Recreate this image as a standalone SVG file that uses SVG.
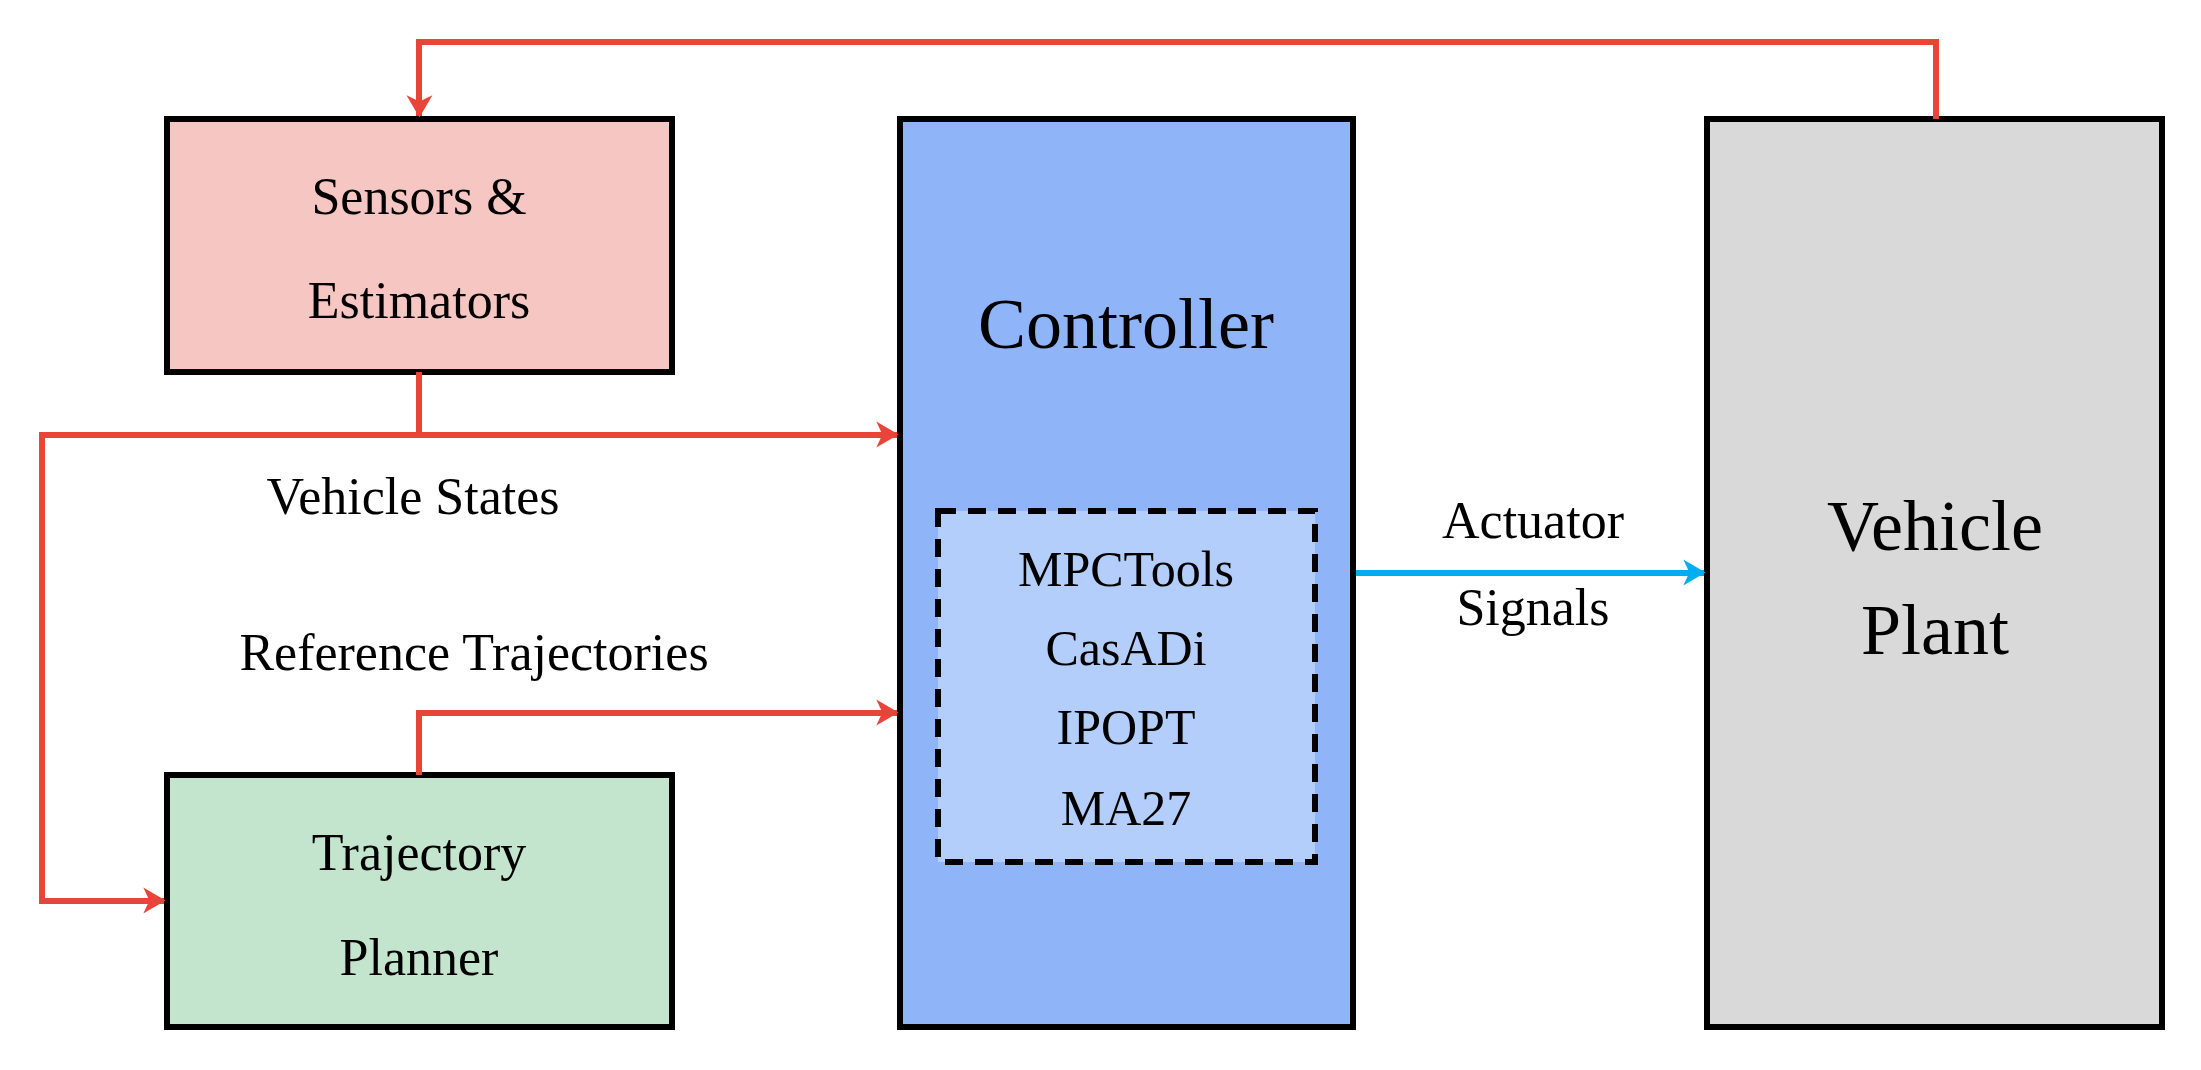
<svg xmlns="http://www.w3.org/2000/svg" width="2201" height="1070" viewBox="0 0 2201 1070">
<style>
.b{stroke:#000;stroke-width:6}
.t{font-family:"Liberation Serif",serif;fill:#000;text-anchor:middle}
.r{fill:none;stroke:#e8453a;stroke-width:6}
</style>
<defs>
<marker id="ar" viewBox="0 0 20 20" refX="19" refY="10" markerWidth="9" markerHeight="9" markerUnits="userSpaceOnUse" orient="auto" style="overflow:visible">
<path d="M-30,-22 L25,10 L-30,42 L-15,10 Z" fill="#e8453a" transform="scale(0.9)"/>
</marker>
<marker id="ab" viewBox="0 0 20 20" refX="19" refY="10" markerWidth="9" markerHeight="9" markerUnits="userSpaceOnUse" orient="auto" style="overflow:visible">
<path d="M-30,-22 L25,10 L-30,42 L-15,10 Z" fill="#00aeef" transform="scale(0.9)"/>
</marker>
</defs>
<rect width="2201" height="1070" fill="#fff"/>
<g id="sensors"><rect class="b" x="167" y="119" width="505" height="253" fill="#f6c6c2"/>
<text class="t" x="419" y="214" font-size="52">Sensors &amp;</text>
<text class="t" x="419" y="318" font-size="52">Estimators</text></g>
<g id="planner"><rect class="b" x="167" y="775" width="505" height="252" fill="#c3e4cd"/>
<text class="t" x="419" y="870" font-size="52">Trajectory</text>
<text class="t" x="419" y="975" font-size="52">Planner</text></g>
<g id="controller"><rect class="b" x="900" y="119" width="453" height="908" fill="#8fb4f8"/>
<text class="t" x="1126" y="348" font-size="72">Controller</text>
<rect x="938" y="511" width="377" height="351" fill="#b3cefa" stroke="#000" stroke-width="6" stroke-dasharray="18,12"/>
<text class="t" x="1126" y="586" font-size="50">MPCTools</text>
<text class="t" x="1126" y="665" font-size="50">CasADi</text>
<text class="t" x="1126" y="744" font-size="50">IPOPT</text>
<text class="t" x="1126" y="825" font-size="50">MA27</text></g>
<g id="plant"><rect class="b" x="1707" y="119" width="455" height="908" fill="#d9d9d9"/>
<text class="t" x="1935" y="550" font-size="72">Vehicle</text>
<text class="t" x="1935" y="654" font-size="72">Plant</text></g>
<g id="connectors">
<path class="r" d="M1936,119 V42 H419 V116" marker-end="url(#ar)"/>
<path class="r" d="M419,372 V435 H897" marker-end="url(#ar)"/>
<path class="r" d="M419,435 H42 V901 H164" marker-end="url(#ar)"/>
<path class="r" d="M419,775 V713 H897" marker-end="url(#ar)"/>
<path d="M1356,573 H1704" fill="none" stroke="#00aeef" stroke-width="6" marker-end="url(#ab)"/>
<text class="t" x="413" y="514" font-size="52">Vehicle States</text>
<text class="t" x="474" y="670" font-size="52">Reference Trajectories</text>
<text class="t" x="1533" y="538" font-size="52">Actuator</text>
<text class="t" x="1533" y="625" font-size="52">Signals</text>
</g>
</svg>
